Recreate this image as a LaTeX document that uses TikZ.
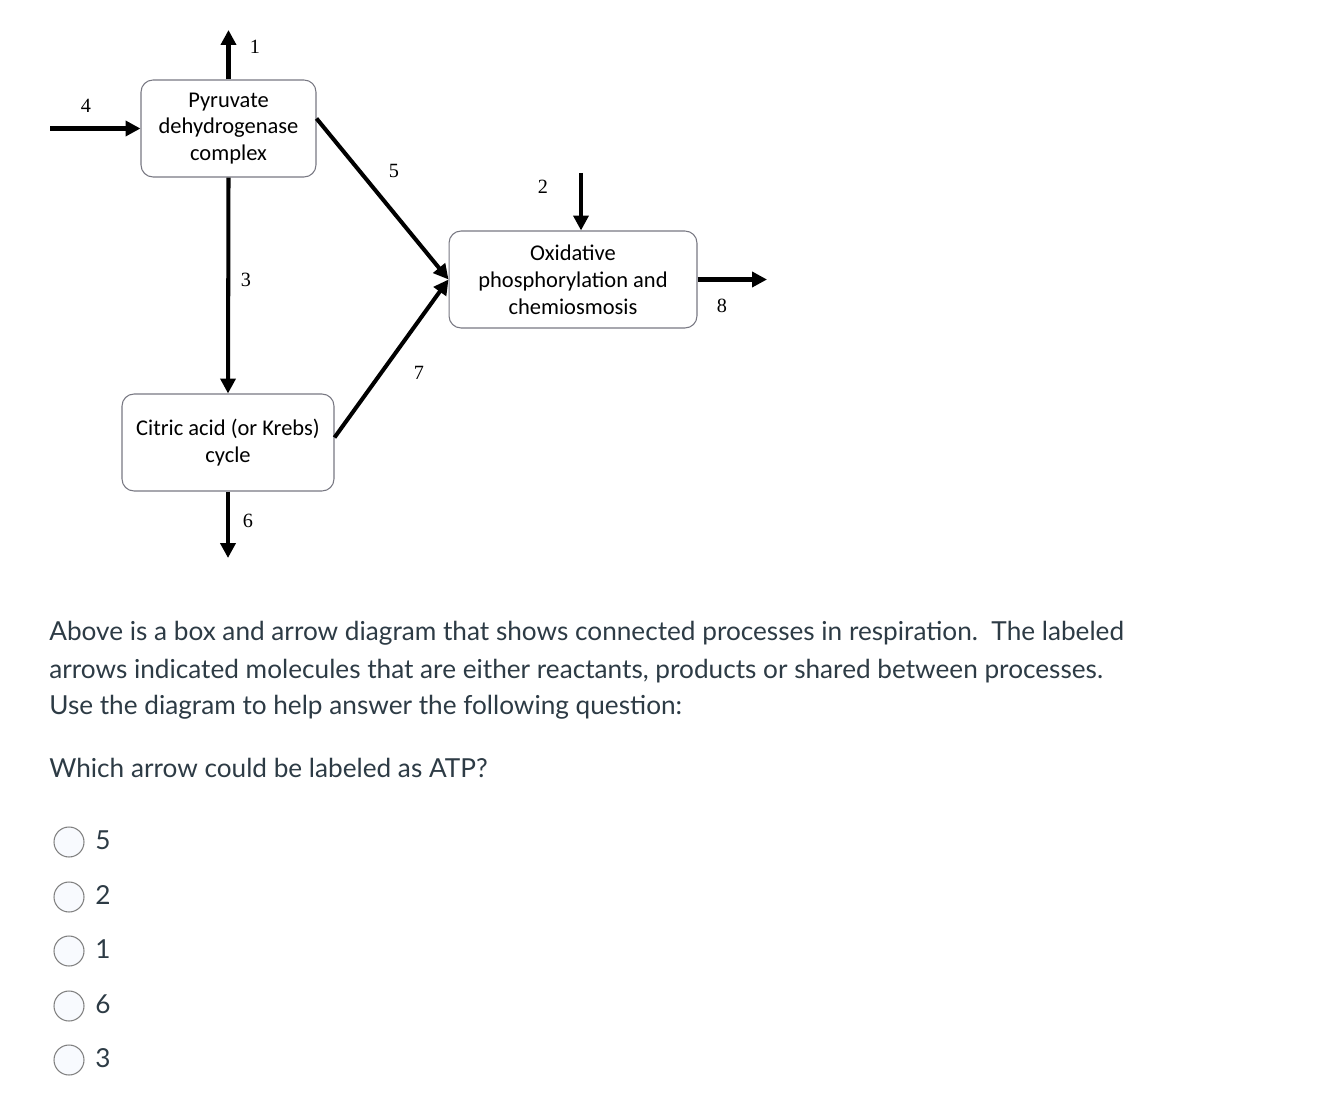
\documentclass[tikz,border=0pt]{standalone}
\usepackage{fontspec}
\setmainfont{Lato}
\newfontfamily\boxfont{Carlito}
\newfontfamily\numfont{Liberation Serif}
\usetikzlibrary{arrows.meta}
\definecolor{canvastext}{RGB}{45,59,69}
\definecolor{boxline}{RGB}{120,120,130}

\begin{document}
\begin{tikzpicture}[x=0.02cm,y=-0.02cm,
    process/.style={draw=boxline,line width=0.6pt,rounded corners=0.24cm,align=center,
      font=\boxfont\fontsize{12.8}{15.3}\selectfont,inner sep=0pt},
    flow/.style={line width=2.3pt,-{Triangle[length=8.5pt,width=8.5pt]}},
    num/.style={font=\numfont\fontsize{11.5}{13}\selectfont,inner sep=0pt},
    qline/.style={font=\fontsize{14.9}{21.5}\selectfont,text=canvastext,anchor=base west,inner sep=0pt},
    radio/.style={circle,draw=black!50,fill={rgb,255:red,248;green,250;blue,254},line width=0.6pt,
      minimum size=0.6cm,inner sep=0pt},
    choice/.style={font=\fontsize{14.9}{17}\selectfont,text=canvastext,anchor=base west,inner sep=0pt}]
      \useasboundingbox (0,0) rectangle (1344,1104);
      % boxes
      \node [process,minimum width=3.5cm,minimum height=1.94cm] (pdh) at (228.5,128.5)
        {Pyruvate\\dehydrogenase\\complex};
      \node [process,minimum width=4.96cm,minimum height=1.94cm] (oxp) at (573,279.5)
        {Oxidative\\phosphorylation and\\chemiosmosis};
      \node [process,minimum width=4.24cm,minimum height=1.94cm] (krebs) at (228,442.5)
        {Citric acid (or Krebs)\\cycle};
      % free ends
      \coordinate (out1) at (228.5,30);
      \coordinate (in4) at (50,128.5);
      \coordinate (out6) at (228,558);
      \coordinate (in2) at (581,173);
      \coordinate (out8) at (767,279.5);
      % arrows
      \draw [flow] (pdh.north) -- (out1);
      \draw [flow] (in4) -- (pdh.west);
      \draw [flow] (pdh.south) -- (krebs.north);
      \draw [flow] (krebs.south) -- (out6);
      \draw [flow] ([yshift=0.2cm]pdh.east) -- (oxp.west);
      \draw [flow] ([yshift=0.1cm]krebs.east) -- (oxp.west);
      \draw [flow] (in2) -- (in2 |- oxp.north);
      \draw [flow] (oxp.east) -- (out8);
      % labels
      \node [num] (l1) at (255,47) {1};
      \node [num] (l4) at (86,106) {4};
      \node [num] (l3) at (246,280) {3};
      \node [num] (l6) at (248,521) {6};
      \node [num] (l5) at (394,171) {5};
      \node [num] (l7) at (419,373) {7};
      \node [num] (l2) at (543,187) {2};
      \node [num] (l8) at (722,306) {8};
      % question
      \node [qline] (q1) at (49,640) {Above is a box and arrow diagram that shows connected processes in respiration.\ \ The labeled};
      \node [qline] (q2) at (49,678) {arrows indicated molecules that are either reactants, products or shared between processes.};
      \node [qline] (q3) at (49,714) {Use the diagram to help answer the following question:};
      \node [qline] (q4) at (49,777) {Which arrow could be labeled as ATP?};
      % choices
      \foreach \ans/\yy [count=\i] in {5/842,2/897,1/951,6/1006,3/1060} {
        \node [radio] (r\i) at (69,\yy) {};
        \node [choice] (c\i) at (95,\yy+7) {\ans};
      }
\end{tikzpicture}
\end{document}
